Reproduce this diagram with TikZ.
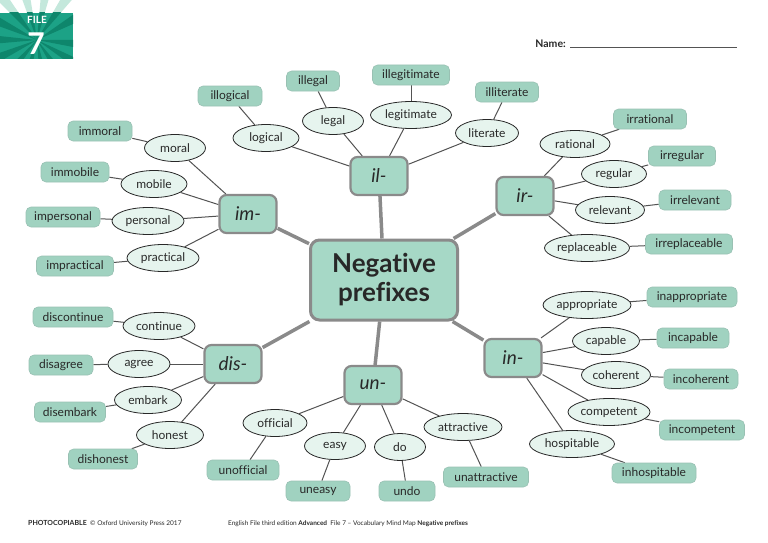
\documentclass[tikz,border=0pt]{standalone}
\usepackage{fontspec}
\setmainfont{Lato}[Ligatures=NoCommon]
\usetikzlibrary{shapes.geometric, positioning, backgrounds}
\definecolor{teal1}{RGB}{166, 216, 198}
\definecolor{mint1}{RGB}{230, 244, 238}
\definecolor{gray1}{RGB}{138, 138, 138}
\definecolor{ink1}{RGB}{40, 40, 40}
\definecolor{logo1}{RGB}{28, 162, 134}
\definecolor{logo2}{RGB}{14, 134, 108}
\definecolor{logo3}{RGB}{196, 232, 220}
\definecolor{answer1}{RGB}{160, 210, 192}

\tikzset{
  hubbox/.style={draw=gray1, line width=3pt, fill=teal1, rounded corners=9pt, minimum width=147pt, minimum height=80pt, align=center, text=ink1, font=\fontsize{26}{29}\selectfont\bfseries},
  prefixbox/.style={draw=gray1, line width=2.2pt, fill=teal1, rounded corners=7pt, minimum width=57pt, minimum height=38pt, text=ink1, font=\fontsize{19}{22}\selectfont\itshape},
  wordell/.style={ellipse, draw=ink1, line width=0.8pt, fill=mint1, inner sep=0pt, minimum height=27pt, text=ink1, font=\fontsize{12}{14}\selectfont},
  answerbox/.style={draw=answer1!80!gray, line width=0.6pt, fill=answer1, rounded corners=5pt, inner sep=0pt, minimum height=20pt, text=ink1, font=\fontsize{12}{14}\selectfont},
  thinlink/.style={draw=ink1!80, line width=1pt},
  thicklink/.style={draw=gray1, line width=3.5pt},
  footnote/.style={anchor=base west, inner sep=0pt, text=ink1, font=\fontsize{6.5}{8}\selectfont}
}

\begin{document}
\begin{tikzpicture}[x=1pt, y=-1pt]
  \useasboundingbox (0,0) rectangle (768,543);

  % FILE 7 badge
  \begin{scope}
    \clip (0,0) rectangle (73,13);
    \foreach \a in {200,225,...,340}
      \fill[logo3] (37,40) -- +(\a:90) -- +(\a+11:90) -- cycle;
  \end{scope}
  \begin{scope}
    \clip (0,13) rectangle (73,59);
    \fill[logo1] (0,13) rectangle (73,59);
    \foreach \a in {0,25,...,340}
      \fill[logo2] (37,40) -- +(\a:90) -- +(\a+11:90) -- cycle;
  \end{scope}
  \node[text=white, font=\fontsize{10}{11}\selectfont\bfseries] (badgefile) at (37,20) {FILE};
  \node[text=white, font=\fontsize{30}{32}\selectfont\bfseries] (badgenum) at (36,44) {7};

  % name line
  \node[anchor=base east, inner sep=0pt, text=ink1, font=\fontsize{10.5}{12}\selectfont\bfseries] (namelabel) at (566,48) {Name:};
  \coordinate (nameend) at (737,48);
  \draw[ink1!80, line width=1pt] ([xshift=4pt]namelabel.base east) -- (nameend);

  % hub and prefixes
  \node[hubbox] (hub) at (384,280) {Negative\\prefixes};
  \node[prefixbox] (pIl) at (379,176) {il-};
  \node[prefixbox] (pIm) at (248,214) {im-};
  \node[prefixbox] (pIr) at (525,196) {ir-};
  \node[prefixbox] (pDis) at (233,364) {dis-};
  \node[prefixbox] (pUn) at (373,385) {un-};
  \node[prefixbox] (pIn) at (513,358) {in-};

  % base words
  \foreach \nm/\x/\y/\w in {logical/266/138/66, legal/333/121/61, legitimate/411/115/81, literate/487/133/63,
      moral/175/148/61, mobile/154/184/66, personal/148/221/72, practical/163/258/72,
      rational/575/144/70, regular/614/174/65, relevant/610/210/69, replaceable/587/248/85,
      continue/159/326/72, agree/139/364/62, embark/148/400/67, honest/170/435/67,
      official/275/423/64, easy/335/446/61, do/400/447/51, attractive/463/427/78,
      appropriate/587/305/88, capable/606/341/67, coherent/616/375/69, competent/609/412/82, hospitable/572/444/85}
    \node[wordell, minimum width=\w pt] (w\nm) at (\x,\y) {\nm};

  % answers
  \foreach \nm/\x/\y/\w in {illogical/230/96/64, illegal/313/81/53, illegitimate/411/75/77, illiterate/507/92/63,
      immoral/100/131/64, immobile/75/172/68, impersonal/63/217/74, impractical/75/266/77,
      irrational/650/119/73, irregular/682/156/67, irrelevant/695/200/72, irreplaceable/689/244/87,
      discontinue/73/317/80, disagree/61/365/64, disembark/70/412/71, dishonest/103/459/69,
      unofficial/243/470/72, uneasy/318/491/64, undo/407/491/56, unattractive/486/477/85,
      inappropriate/692/297/90, incapable/693/338/72, incoherent/701/379/74, incompetent/702/430/85, inhospitable/654/473/84}
    \node[answerbox, minimum width=\w pt] (a\nm) at (\x,\y) {\nm};

  % links
  \begin{scope}[on background layer]
  \foreach \p in {pIl, pIm, pIr, pDis, pUn, pIn}
    \draw[thicklink] (hub) -- (\p);
  \foreach \p/\w/\a in {pIl/logical/illogical, pIl/legal/illegal, pIl/legitimate/illegitimate, pIl/literate/illiterate,
      pIm/moral/immoral, pIm/mobile/immobile, pIm/personal/impersonal, pIm/practical/impractical,
      pIr/rational/irrational, pIr/regular/irregular, pIr/relevant/irrelevant, pIr/replaceable/irreplaceable,
      pDis/continue/discontinue, pDis/agree/disagree, pDis/embark/disembark, pDis/honest/dishonest,
      pUn/official/unofficial, pUn/easy/uneasy, pUn/do/undo, pUn/attractive/unattractive,
      pIn/appropriate/inappropriate, pIn/capable/incapable, pIn/coherent/incoherent, pIn/competent/incompetent, pIn/hospitable/inhospitable}
    {
      \draw[thinlink] (\p) -- (w\w);
      \draw[thinlink] (w\w) -- (a\a);
    }
  \end{scope}

  % footer
  \node[footnote, font=\fontsize{7}{8}\selectfont\bfseries] (photocopy) at (28,525) {PHOTOCOPIABLE};
  \node[footnote] (press) at (90,525) {© Oxford University Press 2017};
  \node[footnote] (edition) at (228,525) {English File third edition \textbf{Advanced}\enspace File 7 – Vocabulary Mind Map \textbf{Negative prefixes}};
\end{tikzpicture}
\end{document}
